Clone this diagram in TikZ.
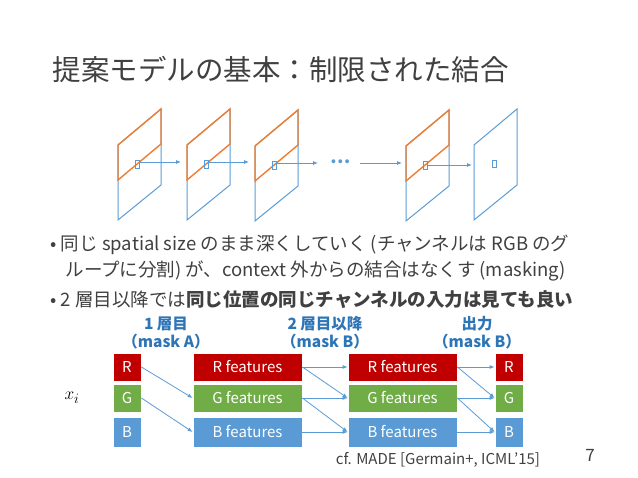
\documentclass[tikz,border=0pt]{standalone}
\usepackage{fontspec}
\setmainfont{Noto Sans CJK JP}
\usetikzlibrary{arrows.meta}
\definecolor{cR}{HTML}{C00000}
\definecolor{cG}{HTML}{70AD47}
\definecolor{cB}{HTML}{5B9BD5}
\definecolor{cO}{HTML}{ED7D31}
\definecolor{cT}{HTML}{404040}
\definecolor{cL}{HTML}{2E75B6}
\tikzset{
 cbox/.style={draw=white,line width=0.8pt,text=white,inner sep=0pt,font=\fontsize{15}{17}\selectfont},
 arr/.style={draw=cB,line width=0.8pt,-{Latex[length=5pt,width=4pt]}},
 pl/.style={draw=cB,line width=1pt},
 po/.style={draw=cO,line width=1.4pt}
}
\newcommand{\plane}[2]{%
 \draw[pl] (#1,#2+36) -- (#1+43,#2) -- (#1+43,#2+76) -- (#1,#2+111) -- cycle;
}
\newcommand{\oplane}[2]{%
 \plane{#1}{#2}
 \draw[po] (#1,#2+71) -- (#1,#2+36) -- (#1+43,#2) -- (#1+43,#2+35) -- cycle;
 \draw[cB,line width=0.8pt] (#1+17,#2+51) rectangle (#1+21,#2+59);
}
\begin{document}
\begin{tikzpicture}[x=1pt,y=-1pt]
\useasboundingbox (0,0) rectangle (638,478);
\node[anchor=west,text=cT,font=\fontsize{28.5}{30}\selectfont] (title) at (49,70) {提案モデルの基本：制限された結合};
\oplane{118}{109}
\oplane{187}{109}
\oplane{255}{110}
\oplane{406}{110}
\plane{474}{109}
\draw[cB,line width=0.8pt] (492,160) rectangle (496,167);
\coordinate (a1) at (140,162); \coordinate (b1) at (181,162);
\coordinate (a2) at (209,162); \coordinate (b2) at (249,162);
\coordinate (a3) at (277,163); \coordinate (b3) at (318,163);
\coordinate (a4) at (360,163); \coordinate (b4) at (402,163);
\coordinate (a5) at (428,165); \coordinate (b5) at (472,165);
\foreach \i in {1,...,5} \draw[arr] (a\i) -- (b\i);
\node[text=cB,font=\bfseries\fontsize{18}{18}\selectfont] (dots) at (341,162) {…};
\begin{scope}[font=\fontsize{18.5}{22}\selectfont,text=cT]
\node[anchor=west,align=left] (b1t) at (47,245) {• 同じ spatial size のまま深くしていく (チャンネルは RGB のグ};
\node[anchor=west] (b1u) at (62,271) {ループに分割) が、context 外からの結合はなくす (masking)};
\node[anchor=west] (b2t) at (47,300) {• 2 層目以降では\textbf{同じ位置の同じチャンネルの入力は見ても良い}};
\end{scope}
\begin{scope}[font=\bfseries\fontsize{15.5}{18}\selectfont,text=cL]
\node[align=center] (l1) at (166,333) {1 層目\\（mask A）};
\node[align=center] (l2) at (325,333) {2 層目以降\\（mask B）};
\node[align=center] (l3) at (477,333) {出力\\（mask B）};
\end{scope}
\node[cbox,fill=cR,minimum width=28pt,minimum height=28pt] (R0) at (127,367) {R};
\node[cbox,fill=cG,minimum width=28pt,minimum height=28pt] (G0) at (127,398) {G};
\node[cbox,fill=cB,minimum width=28pt,minimum height=30pt] (B0) at (127,432) {B};
\foreach \n/\x in {1/247.5,2/402.5}{
\node[cbox,fill=cR,minimum width=109pt,minimum height=28pt] (R\n) at (\x,367) {R features};
\node[cbox,fill=cG,minimum width=109pt,minimum height=28pt] (G\n) at (\x,398) {G features};
\node[cbox,fill=cB,minimum width=109pt,minimum height=30pt] (B\n) at (\x,432) {B features};
}
\node[cbox,fill=cR,minimum width=28pt,minimum height=28pt] (R3) at (509,367) {R};
\node[cbox,fill=cG,minimum width=28pt,minimum height=28pt] (G3) at (509,398) {G};
\node[cbox,fill=cB,minimum width=28pt,minimum height=30pt] (B3) at (509,432) {B};
\draw[arr] (R0.east) -- (G1.west);
\draw[arr] (G0.east) -- (B1.west);
\foreach \p/\q in {1/2,2/3}{
\draw[arr] (R\p.east) -- (R\q.west);
\draw[arr] (R\p.east) -- (G\q.west);
\draw[arr] (G\p.east) -- (G\q.west);
\draw[arr] (G\p.east) -- (B\q.west);
\draw[arr] (B\p.east) -- (B\q.west);
}
\node[font=\fontsize{19}{19}\selectfont] (xi) at (72,398) {$x_i$};
\node[text=cT,font=\fontsize{15}{17}\selectfont] (cf) at (438,460) {cf. MADE [Germain+, ICML’15]};
\node[text=cT,font=\fontsize{17}{17}\selectfont] (pg) at (590,455) {7};
\end{tikzpicture}
\end{document}
